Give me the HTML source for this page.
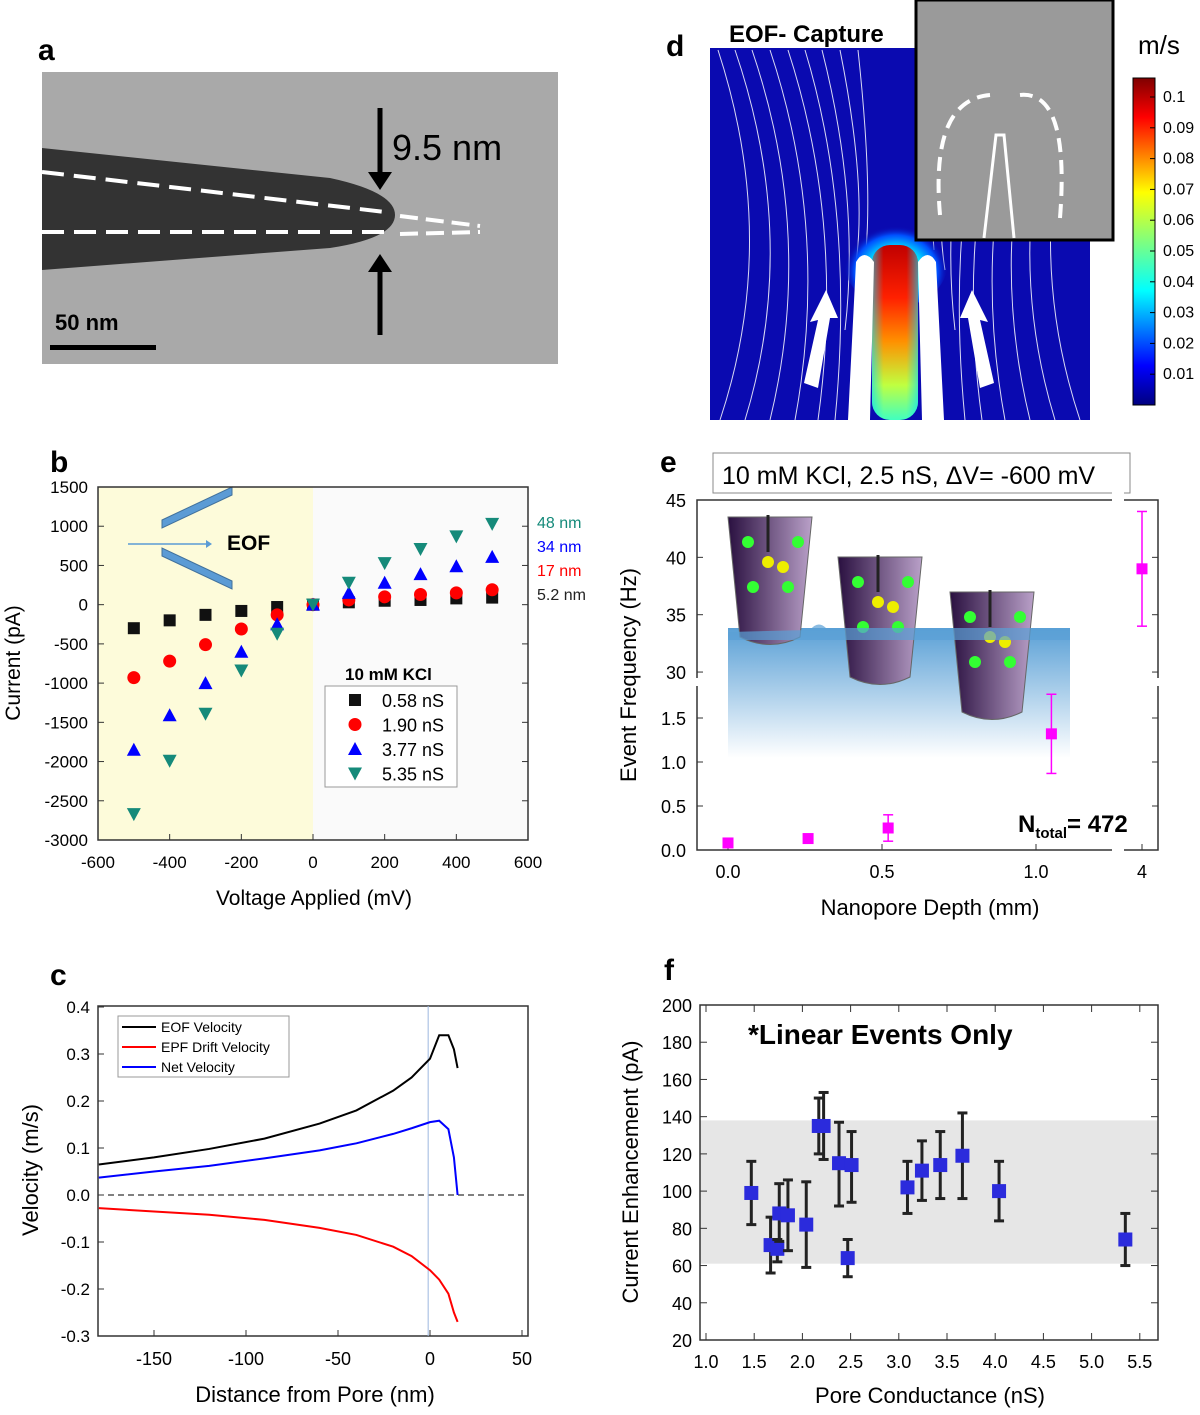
<!DOCTYPE html>
<html><head><meta charset="utf-8">
<style>
body{margin:0;background:#fff;font-family:"Liberation Sans",sans-serif}
svg text{font-family:"Liberation Sans",sans-serif}
</style></head>
<body>
<svg id="fig" width="1200" height="1410" viewBox="0 0 1200 1410" xmlns="http://www.w3.org/2000/svg">
<defs>
<linearGradient id="jet" x1="0" y1="1" x2="0" y2="0">
<stop offset="0" stop-color="#00007f"/><stop offset="0.12" stop-color="#0000ff"/><stop offset="0.35" stop-color="#00ffff"/><stop offset="0.5" stop-color="#7fff7f"/><stop offset="0.65" stop-color="#ffff00"/><stop offset="0.88" stop-color="#ff0000"/><stop offset="1" stop-color="#7f0000"/>
</linearGradient>
<radialGradient id="halo" cx="0.5" cy="0.6" r="0.5">
<stop offset="0" stop-color="#ffff00"/><stop offset="0.45" stop-color="#00ffff"/><stop offset="0.8" stop-color="#0050ff"/><stop offset="1" stop-color="#0a0ab0" stop-opacity="0"/>
</radialGradient>
<linearGradient id="col" x1="0" y1="0" x2="0" y2="1">
<stop offset="0" stop-color="#c00000"/><stop offset="0.3" stop-color="#ff2000"/><stop offset="0.55" stop-color="#ff9000"/><stop offset="0.8" stop-color="#c0ff40"/><stop offset="1" stop-color="#40ffc0"/>
</linearGradient>
<linearGradient id="colside" x1="0" y1="0" x2="1" y2="0">
<stop offset="0" stop-color="#00e0ff"/><stop offset="0.25" stop-color="#00e0ff" stop-opacity="0"/><stop offset="0.75" stop-color="#00e0ff" stop-opacity="0"/><stop offset="1" stop-color="#00e0ff"/>
</linearGradient>
<linearGradient id="water" x1="0" y1="0" x2="0" y2="1"><stop offset="0" stop-color="#5aa0d6"/><stop offset="1" stop-color="#5aa0d6" stop-opacity="0"/></linearGradient>
<linearGradient id="pore" x1="0" y1="0" x2="1" y2="0"><stop offset="0" stop-color="#2a1040"/><stop offset="1" stop-color="#b9a0c8"/></linearGradient>
</defs>

<!-- Panel a -->
<text x="38" y="60" font-size="30" font-weight="bold">a</text>
<g>
<rect x="42" y="72" width="516" height="292" fill="#a9a9a9"/>
<path d="M42 148 L330 178 Q395 192 395 215 Q395 238 330 248 L42 270 Z" fill="#333"/>
<path d="M42 172 L385 212 M42 232 L385 232" stroke="#fff" stroke-width="4" stroke-dasharray="22 10" fill="none"/>
<path d="M400 216 L480 226 M400 234 L480 232" stroke="#fff" stroke-width="4" stroke-dasharray="18 8"/>
<line x1="380" y1="108" x2="380" y2="175" stroke="#000" stroke-width="5"/><polygon points="368,172 392,172 380,190" fill="#000"/>
<line x1="380" y1="270" x2="380" y2="335" stroke="#000" stroke-width="5"/><polygon points="368,272 392,272 380,254" fill="#000"/>
<text x="392" y="160" font-size="36">9.5 nm</text>
<text x="55" y="330" font-size="22" font-weight="bold">50 nm</text>
<rect x="50" y="345" width="106" height="5" fill="#000"/>
</g>

<!-- Panel d -->
<text x="666" y="56" font-size="30" font-weight="bold">d</text>
<g>
<rect x="710" y="48" width="380" height="372" fill="#0a0ab0"/>
<path d="M718 50 Q780 240 720 420 M735 50 Q800 240 745 420 M752 50 Q815 235 770 420 M770 50 Q830 230 795 420 M788 50 Q845 225 818 420 M805 50 Q855 215 835 420 M822 50 Q860 200 845 330 M840 50 Q868 190 855 270 M858 50 Q872 180 866 250 M1082 50 Q1020 240 1080 420 M1065 50 Q1000 240 1055 420 M1048 50 Q985 235 1030 420 M1030 50 Q970 230 1005 420 M1012 50 Q955 225 982 420 M995 50 Q945 215 965 420 M978 50 Q940 200 955 330 M960 50 Q932 190 945 270 M942 50 Q928 180 934 250" stroke="#fff" stroke-width="1" fill="none" opacity="0.85"/>
<ellipse cx="896" cy="262" rx="52" ry="45" fill="url(#halo)"/>
<rect x="872" y="245" width="46" height="175" rx="18" fill="url(#col)"/>
<rect x="872" y="245" width="46" height="175" rx="18" fill="url(#colside)" opacity="0.6"/>
<path d="M848 420 L856 262 Q864 248 874 262 L870 420 Z M922 420 L918 262 Q928 248 936 262 L944 420 Z" fill="#fff"/>
<polygon points="804,383 818,320 810,322 826,290 838,318 830,318 818,388" fill="#fff"/>
<polygon points="994,383 980,320 988,322 972,290 960,318 968,318 980,388" fill="#fff"/>
<rect x="916" y="0" width="197" height="240" fill="#9a9a9a" stroke="#000" stroke-width="3"/>
<path d="M940 215 Q930 100 990 95 M1060 218 Q1070 90 1020 95" stroke="#fff" stroke-width="4" stroke-dasharray="14 8" fill="none"/>
<path d="M984 238 L996 135 L1004 135 L1014 238" stroke="#fff" stroke-width="3" fill="none"/>
</g>
<text x="729" y="42" font-size="24" font-weight="bold">EOF- Capture</text>
<text x="1138" y="54" font-size="26">m/s</text>
<rect x="1133" y="78" width="22" height="327" fill="url(#jet)" stroke="#000"/>
<g id="cbticks" font-size="16"></g>

<!-- Panel b -->
<text x="50" y="472" font-size="30" font-weight="bold">b</text>
<g id="pb"></g>
<!-- Panel c -->
<text x="50" y="985" font-size="30" font-weight="bold">c</text>
<g id="pc"></g>
<!-- Panel e -->
<text x="660" y="472" font-size="30" font-weight="bold">e</text>
<g id="pe"></g>
<!-- Panel f -->
<text x="664" y="980" font-size="30" font-weight="bold">f</text>
<g id="pf"></g>
</svg>
<script>
const NS="http://www.w3.org/2000/svg";
function mk(parent,tag,attrs,txt){const e=document.createElementNS(NS,tag);for(const k in attrs)e.setAttribute(k,attrs[k]);if(txt!==undefined)e.textContent=txt;parent.appendChild(e);return e;}

// colorbar ticks
const cbLabels=["0.1","0.09","0.08","0.07","0.06","0.05","0.04","0.03","0.02","0.01"];
const cbG=document.getElementById('cbticks');
cbLabels.forEach((l,i)=>{const y=97+i*30.8;
const t=mk(cbG,'text',{x:1163,y:y+5},l);


mk(cbG,'line',{x1:1150,x2:1155,y1:y,y2:y,stroke:'#000'});});

// ---------- Panel b data ----------
const bVolt=[-500,-400,-300,-200,-100,0,100,200,300,400,500];
const bS058=[-300,-200,-130,-80,-30,0,30,50,60,80,90];
const bS190=[-930,-720,-510,-310,-130,0,60,100,130,150,190];
const bS377=[-1850,-1410,-1000,-600,-250,0,150,280,390,490,610];
const bS535=[-2670,-1990,-1390,-840,-370,0,280,530,710,870,1030];
const bYTicks=[1500,1000,500,0,-500,-1000,-1500,-2000,-2500,-3000];
const bXTicks=[-600,-400,-200,0,200,400,600];
(function(){
const g=document.getElementById('pb');
const X=v=>98+(v+600)*430/1200, Y=v=>487+(1500-v)*353/4500;
let r=mk(g,'rect',{x:X(-600),y:487,width:X(0)-X(-600),height:353,fill:'#fdfbda'});

mk(g,'rect',{x:X(0),y:487,width:X(600)-X(0),height:353,fill:'#fafafa'});
mk(g,'polygon',{points:'162,520 232,487 232,495 162,528',fill:'#5b9bd5',stroke:'#41719c'});
mk(g,'polygon',{points:'162,556 232,589 232,581 162,548',fill:'#5b9bd5',stroke:'#41719c'});
mk(g,'line',{x1:128,y1:544,x2:206,y2:544,stroke:'#5b9bd5','stroke-width':1.5});
mk(g,'polygon',{points:'206,540 212,544 206,548',fill:'#5b9bd5'});
let t=mk(g,'text',{x:227,y:550,'font-size':21,'font-weight':'bold'},'EOF');

mk(g,'rect',{x:X(-600),y:487,width:430,height:353,fill:'none',stroke:'#333','stroke-width':1.5});
bYTicks.forEach(v=>{mk(g,'line',{x1:98,x2:104,y1:Y(v),y2:Y(v),stroke:'#333'});mk(g,'line',{x1:522,x2:528,y1:Y(v),y2:Y(v),stroke:'#333'});
const tl=mk(g,'text',{x:88,y:Y(v)+6,'font-size':17,'text-anchor':'end'},v);});
bXTicks.forEach(v=>{mk(g,'line',{x1:X(v),x2:X(v),y1:834,y2:840,stroke:'#333'});
const tl=mk(g,'text',{x:X(v),y:868,'font-size':17,'text-anchor':'middle'},v);});
t=mk(g,'text',{x:314,y:905,'font-size':21,'text-anchor':'middle'},'Voltage Applied (mV)');
t=mk(g,'text',{x:20,y:663,'font-size':21,'text-anchor':'middle',transform:'rotate(-90 20 663)'},'Current (pA)');
function marker(type,x,y,c){let e;
if(type==='sq')e=mk(g,'rect',{x:x-6,y:y-6,width:12,height:12,fill:c});
else if(type==='ci')e=mk(g,'circle',{cx:x,cy:y,r:6.5,fill:c});
else if(type==='up')e=mk(g,'polygon',{points:`${x-7},${y+6} ${x+7},${y+6} ${x},${y-7}`,fill:c});
else e=mk(g,'polygon',{points:`${x-7},${y-6} ${x+7},${y-6} ${x},${y+7}`,fill:c});
return e;}
const series=[[bS058,'sq','#111'],[bS190,'ci','#ff0000'],[bS377,'up','#0000ff'],[bS535,'dn','#158a7a']];
series.forEach(([arr,ty,c])=>arr.forEach((v,i)=>{const m=marker(ty,X(bVolt[i]),Y(v),c);}));
t=mk(g,'text',{x:345,y:680,'font-size':17,'font-weight':'bold'},'10 mM KCl');
mk(g,'rect',{x:325,y:686,width:132,height:101,fill:'#fff',stroke:'#999'});
const labs=['0.58 nS','1.90 nS','3.77 nS','5.35 nS'];
series.forEach(([a,ty,c],i)=>{const y=700+i*24.5;marker(ty,355,y,c);const l=mk(g,'text',{x:382,y:y+7,'font-size':18},labs[i]);});
const side=[['48 nm','#158a7a',528],['34 nm','#0000ff',552],['17 nm','#ff0000',576],['5.2 nm','#222',600]];
side.forEach(([s,c,y])=>{const l=mk(g,'text',{x:537,y:y,'font-size':16,fill:c},s);});
})();

// ---------- Panel c data ----------
const cDist=[-180,-150,-120,-90,-60,-40,-20,-10,0,5,10,13,15];
const cEOF=[0.065,0.08,0.098,0.12,0.152,0.18,0.222,0.25,0.29,0.34,0.34,0.31,0.27];
const cNet=[0.037,0.05,0.062,0.078,0.095,0.11,0.13,0.142,0.155,0.158,0.14,0.08,0.0];
const cEPF=[-0.028,-0.035,-0.042,-0.053,-0.07,-0.085,-0.11,-0.13,-0.16,-0.18,-0.21,-0.25,-0.27];
const cYTicks=[0.4,0.3,0.2,0.1,0.0,-0.1,-0.2,-0.3];
const cXTicks=[-150,-100,-50,0,50];
(function(){
const g=document.getElementById('pc');
const X=v=>430+v*1.84, Y=v=>1195-v*470;
mk(g,'rect',{x:98,y:1006,width:430,height:330,fill:'none',stroke:'#333','stroke-width':1.5});
mk(g,'line',{x1:98,x2:528,y1:Y(0),y2:Y(0),stroke:'#000','stroke-dasharray':'6 4'});
mk(g,'line',{x1:X(-1),x2:X(-1),y1:1006,y2:1336,stroke:'#9db8e0'});
cYTicks.forEach(v=>{mk(g,'line',{x1:98,x2:104,y1:Y(v),y2:Y(v),stroke:'#333'});const tl=mk(g,'text',{x:90,y:Y(v)+6,'font-size':17,'text-anchor':'end'},v.toFixed(1));});
cXTicks.forEach(v=>{mk(g,'line',{x1:X(v),x2:X(v),y1:1330,y2:1336,stroke:'#333'});const tl=mk(g,'text',{x:X(v),y:1365,'font-size':18,'text-anchor':'middle'},v);});
const line=(arr,c,n)=>{const p=mk(g,'path',{d:arr.map((v,i)=>(i?'L':'M')+X(cDist[i])+' '+Y(v)).join(' '),stroke:c,'stroke-width':2,fill:'none'});};
line(cEOF,'#000','eof-velocity-line');line(cNet,'#0000ff','net-velocity-line');line(cEPF,'#ff0000','epf-drift-line');
mk(g,'rect',{x:118,y:1016,width:171,height:61,fill:'#fff',stroke:'#999'});
[['EOF Velocity','#000'],['EPF Drift Velocity','#f00'],['Net Velocity','#00f']].forEach(([s,c],i)=>{const y=1027+i*20;mk(g,'line',{x1:122,x2:156,y1:y,y2:y,stroke:c,'stroke-width':2});const l=mk(g,'text',{x:161,y:y+5,'font-size':14},s);});
let t=mk(g,'text',{x:315,y:1402,'font-size':22,'text-anchor':'middle'},'Distance from Pore (nm)');
t=mk(g,'text',{x:38,y:1170,'font-size':22,'text-anchor':'middle',transform:'rotate(-90 38 1170)'},'Velocity (m/s)');
})();

// ---------- Panel e data ----------
const eDepth=[0,0.26,0.52,1.05,4];
const eFreq=[0.08,0.13,0.25,1.32,39];
const eErrLo=[0.08,0.13,0.1,0.87,34];
const eErrHi=[0.08,0.13,0.4,1.77,44];
const eYTicksUp=[45,40,35,30];
const eYTicksLo=[1.5,1.0,0.5,0.0];
const eXTicks=[0,0.5,1.0,4];
(function(){
const g=document.getElementById('pe');
const X=v=>v>=3?1142+(v-4)*30:728+v*308;
const Y=v=>v>=25?500+(45-v)*11.47:850-v*88;
mk(g,'rect',{x:713,y:453,width:417,height:40,fill:'#fff',stroke:'#888'});
let t=mk(g,'text',{x:722,y:484,'font-size':25},'10 mM KCl, 2.5 nS, ΔV= -600 mV');
const il=mk(g,'g',{});
mk(il,'rect',{x:728,y:628,width:342,height:130,fill:'url(#water)'});
[[728,517],[838,557],[950,592]].forEach(([x,y])=>{mk(il,'path',{d:`M${x} ${y} L${x+84} ${y} L${x+72} ${y+120} Q${x+42} ${y+135} ${x+12} ${y+120} Z`,fill:'url(#pore)',stroke:'#666'});
mk(il,'line',{x1:x+40,y1:y-2,x2:x+40,y2:y+35,stroke:'#222','stroke-width':3});
[[20,25,'#3f3'],[70,25,'#3f3'],[25,70,'#3f3'],[60,70,'#3f3'],[40,45,'#ee0'],[55,50,'#ee0']].forEach(([dx,dy,c])=>mk(il,'circle',{cx:x+dx,cy:y+dy,r:6,fill:c}));});
mk(il,'path',{d:'M728 632 L810 630 Q818 620 826 628 L1070 628 L1070 640 L728 640 Z',fill:'#5aa0d6',opacity:0.7});
mk(g,'rect',{x:697,y:500,width:461,height:350,fill:'none',stroke:'#333','stroke-width':1.5});
mk(g,'rect',{x:690,y:678,width:16,height:8,fill:'#fff'});mk(g,'rect',{x:1150,y:678,width:16,height:8,fill:'#fff'});
mk(g,'rect',{x:1112,y:492,width:12,height:16,fill:'#fff'});mk(g,'rect',{x:1112,y:842,width:12,height:16,fill:'#fff'});
eYTicksUp.concat(eYTicksLo).forEach(v=>{const y=Y(v);mk(g,'line',{x1:697,x2:703,y1:y,y2:y,stroke:'#333'});mk(g,'line',{x1:1152,x2:1158,y1:y,y2:y,stroke:'#333'});const tl=mk(g,'text',{x:686,y:y+7,'font-size':18,'text-anchor':'end'},v>=25?v:v.toFixed(1));});
eXTicks.forEach(v=>{mk(g,'line',{x1:X(v),x2:X(v),y1:844,y2:850,stroke:'#333'});const tl=mk(g,'text',{x:X(v),y:878,'font-size':18,'text-anchor':'middle'},v===4?'4':v.toFixed(1));});
eFreq.forEach((v,i)=>{const x=X(eDepth[i]);if(eErrHi[i]>eErrLo[i]){mk(g,'line',{x1:x,x2:x,y1:Y(eErrLo[i]),y2:Y(eErrHi[i]),stroke:'#f0f','stroke-width':1.5});[eErrLo[i],eErrHi[i]].forEach(e=>mk(g,'line',{x1:x-5,x2:x+5,y1:Y(e),y2:Y(e),stroke:'#f0f','stroke-width':1.5}));}
const m=mk(g,'rect',{x:x-5.5,y:Y(v)-5.5,width:11,height:11,fill:'#f0f'});});
t=mk(g,'text',{x:1018,y:832,'font-size':24,'font-weight':'bold'});
t.innerHTML='N<tspan font-size="15" dy="6">total</tspan><tspan dy="-6">= 472</tspan>';
t=mk(g,'text',{x:930,y:915,'font-size':22,'text-anchor':'middle'},'Nanopore Depth (mm)');
t=mk(g,'text',{x:636,y:675,'font-size':22,'text-anchor':'middle',transform:'rotate(-90 636 675)'},'Event Frequency (Hz)');
})();

// ---------- Panel f data ----------
const fCond=[1.47,1.67,1.74,1.76,1.85,2.04,2.17,2.22,2.38,2.51,2.47,3.09,3.24,3.43,3.66,4.04,5.35];
const fCur=[99,71,69,88,87,82,135,135,115,114,64,102,111,114,119,100,74];
const fLo=[82,56,62,73,68,59,120,117,92,94,54,88,95,96,96,84,60];
const fHi=[116,86,74,104,106,105,150,153,137,132,74,116,127,132,142,116,88];
const fYTicks=[200,180,160,140,120,100,80,60,40,20];
const fXTicks=[1.0,1.5,2.0,2.5,3.0,3.5,4.0,4.5,5.0,5.5];
(function(){
const g=document.getElementById('pf');
const X=v=>706+(v-1)*96.4, Y=v=>1340-(v-20)*335/180;
let r=mk(g,'rect',{x:700,y:Y(138),width:458,height:Y(61)-Y(138),fill:'#e6e6e6'});
mk(g,'rect',{x:700,y:1005,width:458,height:335,fill:'none',stroke:'#333','stroke-width':1.5});
fYTicks.forEach(v=>{mk(g,'line',{x1:700,x2:707,y1:Y(v),y2:Y(v),stroke:'#333'});mk(g,'line',{x1:1151,x2:1158,y1:Y(v),y2:Y(v),stroke:'#333'});const tl=mk(g,'text',{x:692,y:Y(v)+7,'font-size':18,'text-anchor':'end'},v);});
fXTicks.forEach(v=>{mk(g,'line',{x1:X(v),x2:X(v),y1:1333,y2:1340,stroke:'#333'});mk(g,'line',{x1:X(v),x2:X(v),y1:1005,y2:1012,stroke:'#333'});const tl=mk(g,'text',{x:X(v),y:1368,'font-size':18,'text-anchor':'middle'},v.toFixed(1));});
fCur.forEach((v,i)=>{const x=X(fCond[i]);mk(g,'line',{x1:x,x2:x,y1:Y(fLo[i]),y2:Y(fHi[i]),stroke:'#222','stroke-width':3});[fLo[i],fHi[i]].forEach(e=>mk(g,'line',{x1:x-5,x2:x+5,y1:Y(e),y2:Y(e),stroke:'#222','stroke-width':3}));
const m=mk(g,'rect',{x:x-7,y:Y(v)-7,width:14,height:14,fill:'#2b2bdc'});});
let t=mk(g,'text',{x:748,y:1044,'font-size':28,'font-weight':'bold'},'*Linear Events Only');
t=mk(g,'text',{x:930,y:1403,'font-size':22,'text-anchor':'middle'},'Pore Conductance (nS)');
t=mk(g,'text',{x:638,y:1172,'font-size':22,'text-anchor':'middle',transform:'rotate(-90 638 1172)'},'Current Enhancement (pA)');
})();
</script>
</body></html>
